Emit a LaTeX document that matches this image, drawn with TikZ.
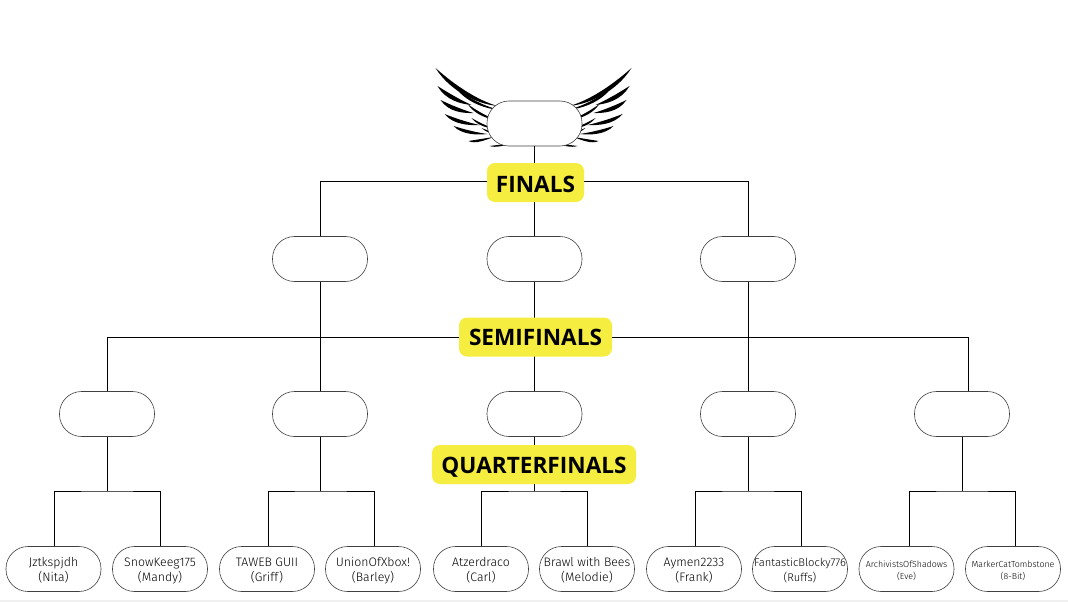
\documentclass[tikz,border=0pt]{standalone}
\usepackage{fontspec}
\setmainfont{Open Sans}
\newfontfamily\playerfont{Fira Sans Light}
\usetikzlibrary{positioning}
\definecolor{stageyellow}{HTML}{F5ED3F}
\tikzset{
	slot/.style={draw=black!75, line width=0.6pt, fill=white, rounded corners=22pt, minimum width=95pt, minimum height=45pt, inner sep=0pt, align=center, font=\playerfont\fontsize{12.3}{15.5}\selectfont},
	stage/.style={fill=stageyellow, rounded corners=8pt, inner sep=0pt, minimum height=39pt, font=\bfseries\fontsize{22.6}{25}\selectfont},
	link/.style={draw=black, line width=0.9pt},
	feather/.style={fill=black, draw=none}
}
\newcommand{\playertext}[2]{\raisebox{-2pt}[\height][\depth]{\begin{tabular}{@{}c@{}}#1\\#2\end{tabular}}}
\newcommand{\stagetext}[2]{\raisebox{#1}[\height][\depth]{#2}}
\begin{document}
\begin{tikzpicture}[x=1pt, y=-1pt]
	\useasboundingbox (0,0) rectangle (1068,602);
	\fill[black!6] (0,600) rectangle (1068,602);
	% wings
	\foreach \side in {1,-1} {
		\begin{scope}[shift={(533.5,0)}, xscale=\side]
			\foreach \tx/\ty/\bx/\by/\th/\bd in {98/68/36/106/9/6, 96/86/62/105/9/1, 93/100/60/113/8/1, 89/114/54/125/7/1, 80/126/46/134/6/1, 65/141/40/137/4.5/0, 44/146/20/143/3/0, 76/90/34/110/5/3, 66/104/36/120/5/2, 62/118/38/129/4/1, 52/128/34/135/3/0} {
				\fill[feather] (\tx,\ty)
					.. controls ({\tx+.35*(\bx-\tx)},{\ty+.35*(\by-\ty)+\bd}) and ({\tx+.7*(\bx-\tx)},{\ty+.7*(\by-\ty)+\bd}) .. (\bx,\by)
					.. controls ({\tx+.7*(\bx-\tx)},{\ty+.7*(\by-\ty)+\bd+.4*\th}) and ({\tx+.25*(\bx-\tx)},{\ty+.25*(\by-\ty)+\bd+\th}) .. (\tx,\ty) -- cycle;
			}
		\end{scope}
	}
	% slots
	\node[slot] (champ) at (534.5,123.5) {};
	\node[slot] (semiA) at (320,259) {};
	\node[slot] (semiB) at (534.5,259) {};
	\node[slot] (semiC) at (748,259) {};
	\foreach \name/\xpos in {quartA/107, quartB/320, quartC/534.5, quartD/748, quartE/962}
		\node[slot] (\name) at (\xpos,414) {};
	\node[slot] (p1) at (53.5,569) {\playertext{Jztkspjdh}{(Nita)}};
	\node[slot] (p2) at (160,569) {\playertext{SnowKeeg175}{(Mandy)}};
	\node[slot] (p3) at (267,569) {\playertext{TAWEB GUII}{(Griff)}};
	\node[slot] (p4) at (373,569) {\playertext{UnionOfXbox!}{(Barley)}};
	\node[slot] (p5) at (481,569) {\playertext{Atzerdraco}{(Carl)}};
	\node[slot] (p6) at (587,569) {\playertext{Brawl with Bees}{(Melodie)}};
	\node[slot] (p7) at (694,569) {\playertext{Aymen2233}{(Frank)}};
	\node[slot, font=\playerfont\fontsize{11.2}{15}\selectfont] (p8) at (800,569) {\playertext{FantasticBlocky776}{(Ruffs)}};
	\node[slot, font=\playerfont\fontsize{8.8}{12.5}\selectfont] (p9) at (906.5,569) {\playertext{ArchivistsOfShadows}{(Eve)}};
	\node[slot, font=\playerfont\fontsize{8.8}{12.5}\selectfont] (p10) at (1013,569) {\playertext{MarkerCatTombstone}{(8-Bit)}};
	% junctions
	\coordinate (barF) at (534.5,181);
	\coordinate (barS) at (534.5,337);
	\coordinate (barEnd) at (968,337);
	\foreach \j/\xpos in {jA/107, jB/320, jC/534.5, jD/748, jE/962}
		\coordinate (\j) at (\xpos,491);
	% connectors
	\path[link]
	(champ.south) edge (barF)
	(barF) edge (semiB.north)
	(barF) edge (semiA.north |- barF) edge (semiC.north |- barF)
	(semiA.north |- barF) edge (semiA.north)
	(semiC.north |- barF) edge (semiC.north)
	(semiA.south) edge (quartB.north)
	(semiB.south) edge (quartC.north)
	(semiC.south) edge (quartD.north)
	(barS) edge (quartA.north |- barS) edge (barEnd)
	(quartA.north |- barS) edge (quartA.north)
	(barEnd) edge (barEnd |- quartE.north)
	(quartA.south) edge (jA)
	(quartB.south) edge (jB)
	(quartC.south) edge (jC)
	(quartD.south) edge (jD)
	(quartE.south) edge (jE);
	\draw[link] (p1.north -| 54,0) |- (jA) -| (p2.north -| 160,0);
	\draw[link] (p3.north -| 268,0) |- (jB) -| (p4.north -| 374,0);
	\draw[link] (p5.north) |- (jC) -| (p6.north);
	\draw[link] (p7.north -| 695,0) |- (jD) -| (p8.north -| 801,0);
	\draw[link] (p9.north -| 909,0) |- (jE) -| (p10.north -| 1015,0);
	% stage labels
	\node[stage, minimum width=97pt] (finals) at (535.5,182.5) {\stagetext{-1.5pt}{FINALS}};
	\node[stage, minimum width=153pt] (semis) at (535.5,337) {\stagetext{-0.5pt}{SEMIFINALS}};
	\node[stage, minimum width=204pt] (quarters) at (534,464.5) {\stagetext{-3pt}{QUARTERFINALS}};
\end{tikzpicture}
\end{document}
